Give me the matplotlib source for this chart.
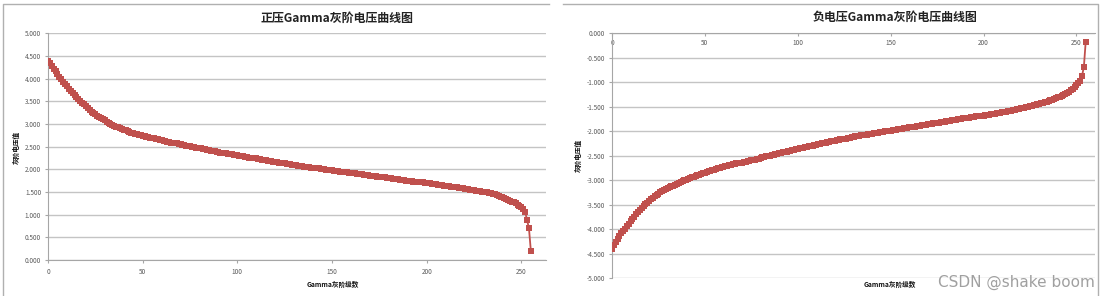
import matplotlib
matplotlib.use("Agg")
import matplotlib.pyplot as plt
from matplotlib.lines import Line2D
from matplotlib.ticker import FormatStrFormatter, MultipleLocator

plt.rcParams['font.family'] = ['Noto Sans CJK SC', 'DejaVu Sans']

# 灰阶 0..255
gray_levels = list(range(256))

# 正压 Gamma 电压
pos_voltage = [
    4.40, 4.34, 4.28, 4.22, 4.16, 4.10, 4.04, 3.99, 3.93, 3.88,
    3.83, 3.78, 3.73, 3.68, 3.64, 3.59, 3.55, 3.51, 3.47, 3.43,
    3.39, 3.35, 3.31, 3.27, 3.24, 3.21, 3.18, 3.16, 3.13, 3.10,
    3.08, 3.05, 3.03, 3.00, 2.98, 2.96, 2.94, 2.93, 2.91, 2.89,
    2.87, 2.86, 2.84, 2.83, 2.81, 2.80, 2.78, 2.77, 2.76, 2.75,
    2.74, 2.73, 2.72, 2.71, 2.70, 2.69, 2.68, 2.67, 2.66, 2.65,
    2.64, 2.63, 2.62, 2.61, 2.60, 2.59, 2.58, 2.58, 2.57, 2.56,
    2.55, 2.54, 2.53, 2.52, 2.52, 2.51, 2.50, 2.49, 2.48, 2.47,
    2.46, 2.46, 2.45, 2.44, 2.43, 2.42, 2.41, 2.41, 2.40, 2.39,
    2.38, 2.37, 2.37, 2.36, 2.35, 2.34, 2.34, 2.33, 2.32, 2.31,
    2.31, 2.30, 2.29, 2.29, 2.28, 2.27, 2.26, 2.26, 2.25, 2.24,
    2.24, 2.23, 2.22, 2.21, 2.21, 2.20, 2.19, 2.19, 2.18, 2.17,
    2.16, 2.16, 2.15, 2.14, 2.14, 2.13, 2.12, 2.11, 2.11, 2.10,
    2.09, 2.09, 2.08, 2.08, 2.07, 2.06, 2.06, 2.05, 2.05, 2.04,
    2.03, 2.03, 2.02, 2.02, 2.01, 2.01, 2.00, 1.99, 1.99, 1.98,
    1.98, 1.97, 1.96, 1.96, 1.95, 1.95, 1.94, 1.93, 1.93, 1.92,
    1.92, 1.91, 1.91, 1.90, 1.90, 1.89, 1.89, 1.88, 1.87, 1.87,
    1.86, 1.86, 1.85, 1.85, 1.84, 1.83, 1.83, 1.82, 1.82, 1.81,
    1.81, 1.80, 1.79, 1.79, 1.78, 1.78, 1.77, 1.76, 1.76, 1.75,
    1.75, 1.74, 1.74, 1.73, 1.73, 1.72, 1.72, 1.71, 1.71, 1.70,
    1.70, 1.69, 1.69, 1.68, 1.67, 1.67, 1.66, 1.66, 1.65, 1.64,
    1.64, 1.63, 1.63, 1.62, 1.61, 1.61, 1.60, 1.59, 1.59, 1.58,
    1.57, 1.57, 1.56, 1.55, 1.55, 1.54, 1.53, 1.53, 1.52, 1.51,
    1.50, 1.50, 1.49, 1.48, 1.47, 1.46, 1.45, 1.43, 1.42, 1.40,
    1.39, 1.37, 1.35, 1.33, 1.31, 1.29, 1.27, 1.25, 1.22, 1.19,
    1.16, 1.12, 1.06, 0.88, 0.70, 0.20,
]

# 负压 Gamma 电压
neg_voltage = [
    -4.40, -4.33, -4.27, -4.21, -4.15, -4.09, -4.04, -3.99, -3.94, -3.89,
    -3.84, -3.79, -3.75, -3.70, -3.66, -3.61, -3.57, -3.53, -3.49, -3.46,
    -3.42, -3.39, -3.36, -3.33, -3.30, -3.28, -3.25, -3.23, -3.21, -3.19,
    -3.17, -3.15, -3.13, -3.11, -3.09, -3.07, -3.05, -3.04, -3.02, -3.00,
    -2.99, -2.97, -2.96, -2.94, -2.93, -2.91, -2.90, -2.89, -2.87, -2.86,
    -2.85, -2.83, -2.82, -2.81, -2.80, -2.79, -2.77, -2.76, -2.75, -2.74,
    -2.73, -2.72, -2.71, -2.70, -2.69, -2.68, -2.67, -2.66, -2.66, -2.65,
    -2.64, -2.63, -2.62, -2.61, -2.60, -2.59, -2.59, -2.58, -2.57, -2.56,
    -2.54, -2.53, -2.52, -2.51, -2.50, -2.50, -2.49, -2.48, -2.47, -2.46,
    -2.45, -2.44, -2.43, -2.42, -2.42, -2.41, -2.40, -2.39, -2.38, -2.37,
    -2.36, -2.35, -2.35, -2.34, -2.33, -2.32, -2.31, -2.30, -2.30, -2.29,
    -2.28, -2.27, -2.26, -2.25, -2.25, -2.24, -2.23, -2.22, -2.21, -2.20,
    -2.20, -2.19, -2.18, -2.17, -2.16, -2.16, -2.15, -2.14, -2.13, -2.12,
    -2.11, -2.10, -2.10, -2.09, -2.08, -2.08, -2.07, -2.07, -2.06, -2.05,
    -2.05, -2.04, -2.04, -2.03, -2.02, -2.02, -2.01, -2.00, -2.00, -1.99,
    -1.99, -1.98, -1.97, -1.97, -1.96, -1.96, -1.95, -1.94, -1.94, -1.93,
    -1.92, -1.92, -1.91, -1.91, -1.90, -1.89, -1.89, -1.88, -1.88, -1.87,
    -1.86, -1.86, -1.85, -1.84, -1.84, -1.83, -1.83, -1.82, -1.81, -1.81,
    -1.80, -1.79, -1.79, -1.78, -1.78, -1.77, -1.76, -1.76, -1.75, -1.74,
    -1.74, -1.73, -1.73, -1.72, -1.71, -1.71, -1.70, -1.69, -1.69, -1.68,
    -1.68, -1.67, -1.66, -1.66, -1.65, -1.64, -1.64, -1.63, -1.62, -1.62,
    -1.61, -1.60, -1.60, -1.59, -1.58, -1.58, -1.57, -1.56, -1.55, -1.54,
    -1.53, -1.52, -1.52, -1.51, -1.50, -1.49, -1.48, -1.47, -1.46, -1.45,
    -1.44, -1.43, -1.42, -1.41, -1.40, -1.39, -1.37, -1.36, -1.34, -1.33,
    -1.31, -1.30, -1.28, -1.26, -1.24, -1.22, -1.19, -1.16, -1.13, -1.10,
    -1.06, -1.02, -0.98, -0.87, -0.69, -0.17,
]

x_ticks = [0, 50, 100, 150, 200, 250]

RED = "#c0504d"
GRID = "#c4c4c4"
TICKC = "#5a5a5a"

W, H = 1100, 296
fig = plt.figure(figsize=(W / 100, H / 100), dpi=100)


def px(x0, y0, x1, y1):
    # pixel box -> figure fraction rect
    return [x0 / W, 1 - y1 / H, (x1 - x0) / W, (y1 - y0) / H]


def style_axes(ax):
    ax.set_facecolor("white")
    ax.grid(True, axis="y", color=GRID, linewidth=1.0)
    ax.set_axisbelow(True)
    for s in ax.spines.values():
        s.set_visible(False)
    ax.spines["left"].set_visible(True)
    ax.spines["left"].set_color("#a6a6a6")
    ax.spines["bottom"].set_visible(True)
    ax.spines["bottom"].set_color("#a6a6a6")
    ax.tick_params(axis="both", labelsize=4.6, colors="#a6a6a6",
                   labelcolor=TICKC, length=2, width=0.8)
    ax.set_xticks(x_ticks)
    ax.yaxis.set_major_locator(MultipleLocator(0.5))
    ax.yaxis.set_major_formatter(FormatStrFormatter("%.3f"))


# ---- 左图: 正压 ----
ax1 = fig.add_axes(px(48, 33.3, 546, 260))
style_axes(ax1)
ax1.plot(gray_levels, pos_voltage, color=RED, lw=1.3, marker="s",
         markersize=4.4, markeredgewidth=0, zorder=3)
ax1.set_xlim(0, 263)
ax1.set_ylim(0, 5)
ax1.tick_params(axis="y", pad=3)
ax1.tick_params(axis="x", pad=4)

# ---- 右图: 负压 ----
ax2 = fig.add_axes(px(612, 33.3, 1095, 278))
style_axes(ax2)
ax2.plot(gray_levels, neg_voltage, color=RED, lw=1.3, marker="s",
         markersize=4.4, markeredgewidth=0, zorder=3)
ax2.set_xlim(0, 260)
ax2.set_ylim(-5, 0)
ax2.spines["bottom"].set_position(("data", 0))
ax2.tick_params(axis="y", pad=3)
ax2.tick_params(axis="x", pad=2)

# 标题与轴标题
fig.text(337 / W, 1 - 18 / H, "正压Gamma灰阶电压曲线图", ha="center", va="center",
         fontsize=8.6, fontweight="bold", color="#222222")
fig.text(895 / W, 1 - 17 / H, "负电压Gamma灰阶电压曲线图", ha="center", va="center",
         fontsize=8.6, fontweight="bold", color="#222222")
fig.text(333 / W, 1 - 284 / H, "Gamma灰阶级数", ha="center", va="center",
         fontsize=4.8, fontweight="bold", color="#111111")
fig.text(890 / W, 1 - 284 / H, "Gamma灰阶级数", ha="center", va="center",
         fontsize=4.8, fontweight="bold", color="#111111")
fig.text(16 / W, 1 - 147 / H, "灰阶电压值", ha="center", va="center", rotation=90,
         fontsize=4.8, fontweight="bold", color="#111111")
fig.text(578 / W, 1 - 155 / H, "灰阶电压值", ha="center", va="center", rotation=90,
         fontsize=4.8, fontweight="bold", color="#111111")

# 图表外框
fig.add_artist(Line2D([3 / W, 3 / W, 549 / W], [0, 1 - 4 / H, 1 - 4 / H],
                      color="#b0b0b0", lw=1.0))
fig.add_artist(Line2D([563 / W, 1098 / W, 1098 / W], [1 - 4 / H, 1 - 4 / H, 0],
                      color="#b0b0b0", lw=1.0))

# 水印
fig.text(1095 / W, 1 - 282 / H, "CSDN @shake boom", ha="right", va="center",
         fontsize=11, color="#a0a0a0", family=["DejaVu Sans"])

fig.savefig("out.png", dpi=100)
